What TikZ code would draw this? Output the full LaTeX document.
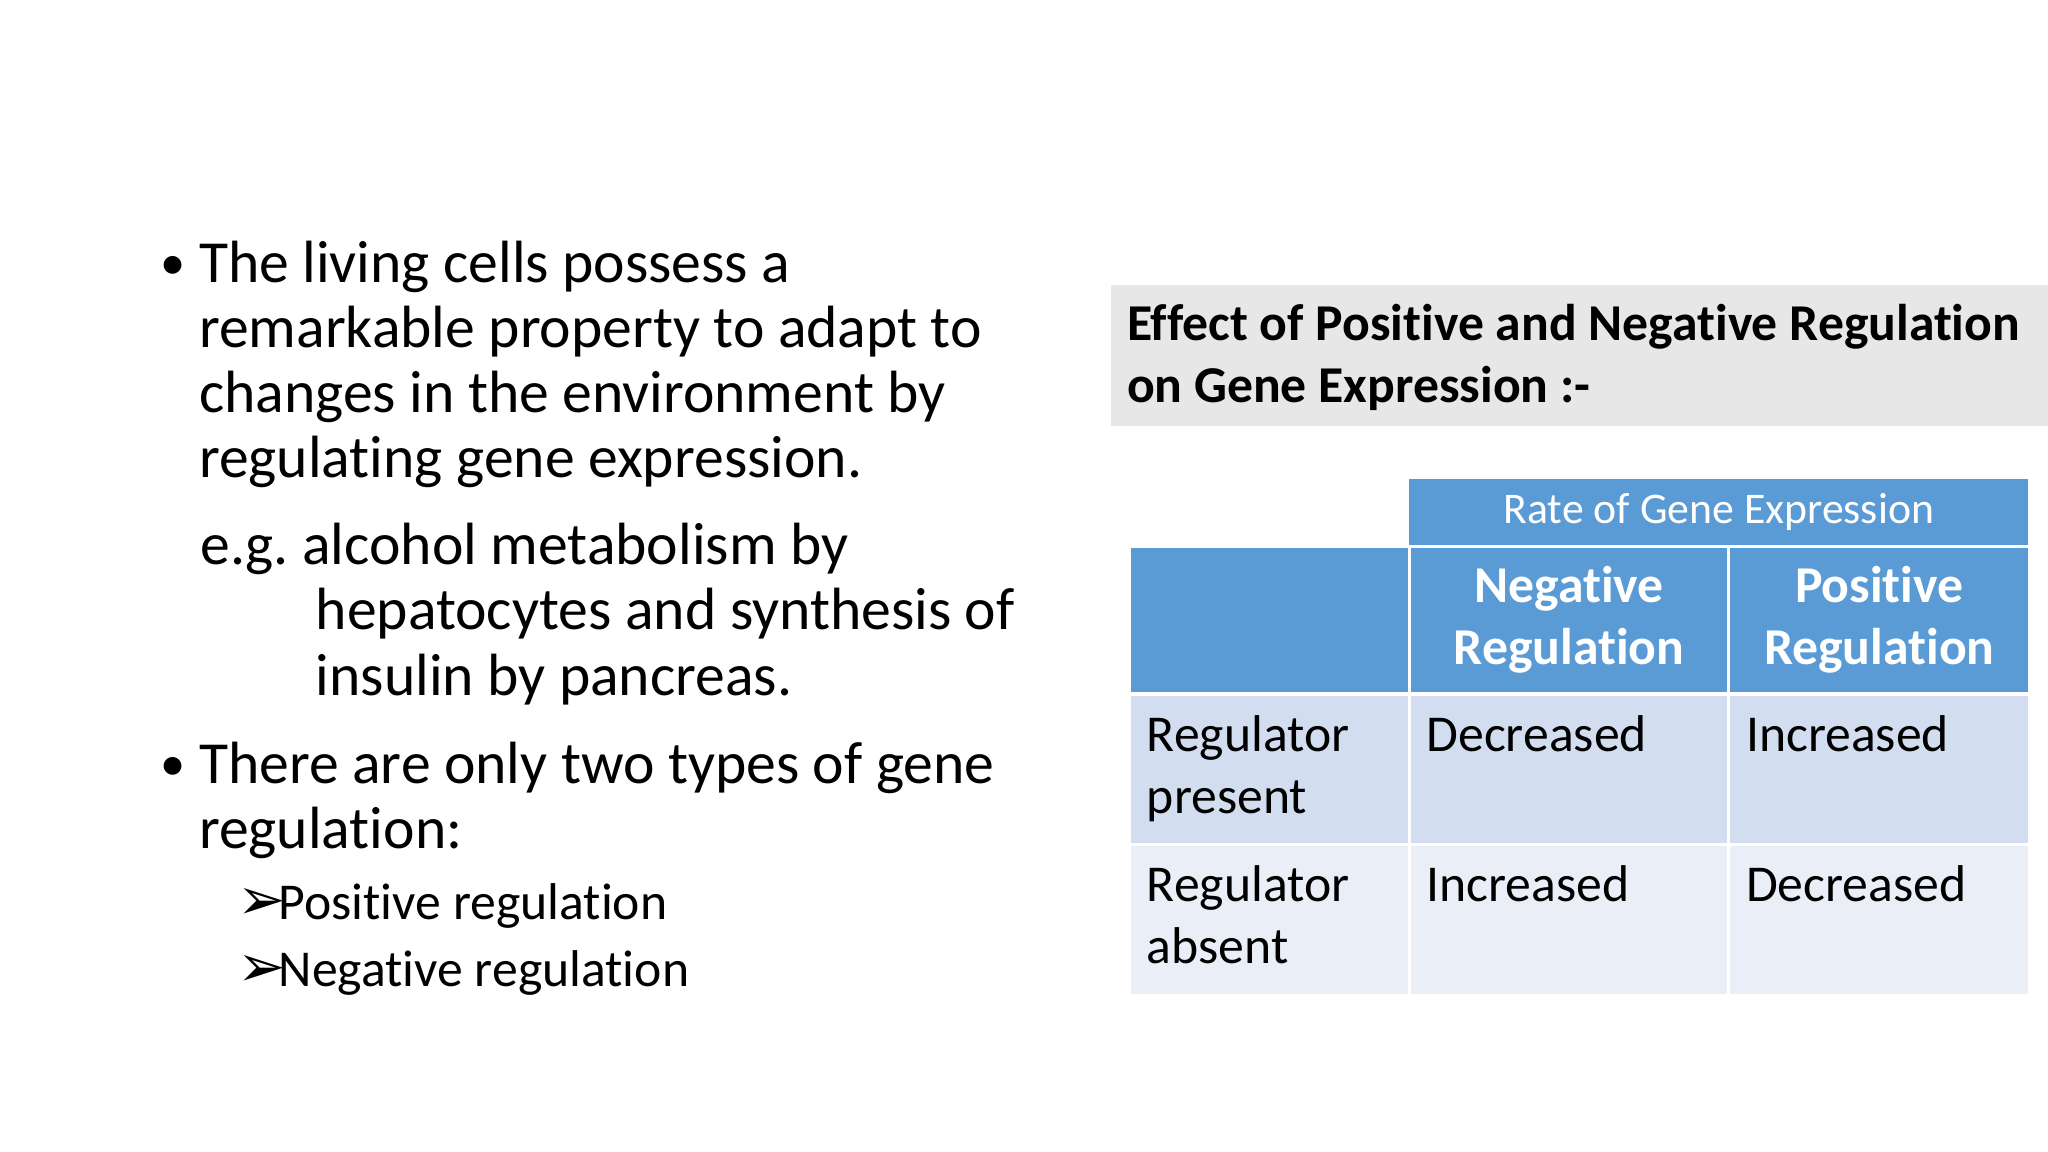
\documentclass[tikz,border=0pt]{standalone}
\usepackage{fontspec}
\setmainfont[Ligatures=NoCommon]{Carlito}
\newfontfamily\symfont{DejaVu Sans}
\frenchspacing
\tikzset{
  body/.style={anchor=base west, inner sep=0pt, font=\fontsize{45}{49}\selectfont},
  small/.style={anchor=base west, inner sep=0pt, font=\fontsize{39}{44}\selectfont},
  cell/.style={anchor=north west, inner sep=0pt, draw=none},
  celltext/.style={anchor=base west, inner sep=0pt, font=\fontsize{39}{47}\selectfont},
  headtext/.style={inner sep=0pt, align=center, text=white, font=\bfseries\fontsize{39}{47}\selectfont}
}
\definecolor{headblue}{HTML}{5B9BD5}
\definecolor{rowone}{HTML}{D2DEEF}
\definecolor{rowtwo}{HTML}{EAEFF7}
\definecolor{titlegray}{HTML}{E7E7E7}
\begin{document}
\begin{tikzpicture}[x=1pt,y=-1pt]
    \useasboundingbox (0,0) rectangle (1545,869);

    % left text
    \node[body, font=\fontsize{38}{40}\selectfont] (b1) at (121,211) {•};
    \node[body] (l1) at (150,213) {The living cells possess a};
    \node[body] (l2) at (150,262) {remarkable property to adapt to};
    \node[body] (l3) at (150,311) {changes in the environment by};
    \node[body] (l4) at (150,360) {regulating gene expression.};
    \node[body] (e1) at (151,426) {e.g. alcohol metabolism by};
    \node[body] (e2) at (238,475) {hepatocytes and synthesis of};
    \node[body] (e3) at (238,525) {insulin by pancreas.};
    \node[body, font=\fontsize{38}{40}\selectfont] (b2) at (121,589) {•};
    \node[body] (m1) at (150,591) {There are only two types of gene};
    \node[body] (m2) at (150,640) {regulation:};
    \node[small] (a1) at (179,694) {\symfont\fontsize{44}{44}\selectfont ➢};
    \node[small] (p1) at (210,694) {Positive regulation};
    \node[small] (a2) at (179,744) {\symfont\fontsize{44}{44}\selectfont ➢};
    \node[small] (p2) at (210,744) {Negative regulation};

    % title box
    \node[cell, fill=titlegray, minimum width=707pt, minimum height=106pt] (title) at (838,215) {};
    \node[anchor=base west, inner sep=0pt, font=\bfseries\fontsize{39}{47}\selectfont] (t1) at (850,257) {Effect of Positive and Negative Regulation};
    \node[anchor=base west, inner sep=0pt, font=\bfseries\fontsize{39}{47}\selectfont] (t2) at (850,304) {on Gene Expression :-};

    % table cells
    \node[cell, fill=headblue, minimum width=467pt, minimum height=50pt] (rate) at (1063,361) {};
    \node[cell, fill=headblue, minimum width=209pt, minimum height=109pt] (h0) at (853,413) {};
    \node[cell, fill=headblue, minimum width=239pt, minimum height=109pt] (h1) at (1064,413) {};
    \node[cell, fill=headblue, minimum width=225pt, minimum height=109pt] (h2) at (1305,413) {};
    \node[cell, fill=rowone, minimum width=209pt, minimum height=111pt] (c10) at (853,525) {};
    \node[cell, fill=rowone, minimum width=239pt, minimum height=111pt] (c11) at (1064,525) {};
    \node[cell, fill=rowone, minimum width=225pt, minimum height=111pt] (c12) at (1305,525) {};
    \node[cell, fill=rowtwo, minimum width=209pt, minimum height=112pt] (c20) at (853,638) {};
    \node[cell, fill=rowtwo, minimum width=239pt, minimum height=112pt] (c21) at (1064,638) {};
    \node[cell, fill=rowtwo, minimum width=225pt, minimum height=112pt] (c22) at (1305,638) {};

    % table texts
    \node[inner sep=0pt, text=white, font=\fontsize{33}{36}\selectfont] (ratetext) at (rate.center) {Rate of Gene Expression};
    \node[headtext] (neg) at (h1.center) {Negative\\Regulation};
    \node[headtext] (pos) at (h2.center) {Positive\\Regulation};
    \node[celltext] (r1a) at (865,567) {Regulator};
    \node[celltext] (r1b) at (865,614) {present};
    \node[celltext] (r1c) at (1076,567) {Decreased};
    \node[celltext] (r1d) at (1317,567) {Increased};
    \node[celltext] (r2a) at (865,680) {Regulator};
    \node[celltext] (r2b) at (865,727) {absent};
    \node[celltext] (r2c) at (1076,680) {Increased};
    \node[celltext] (r2d) at (1317,680) {Decreased};
\end{tikzpicture}
\end{document}
